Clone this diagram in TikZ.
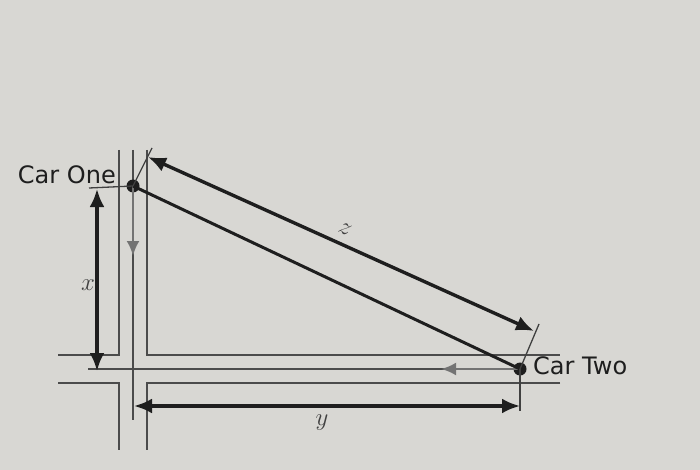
\documentclass[tikz,border=0pt]{standalone}
\usepackage{fontspec}
\setsansfont{DejaVu Sans}
\usetikzlibrary{arrows.meta}
\definecolor{paper}{RGB}{216,215,211}
\definecolor{ink}{RGB}{30,30,30}
\definecolor{road}{RGB}{75,75,75}
\definecolor{path}{RGB}{115,115,115}
\tikzset{
  roadline/.style={draw=road, line width=1.5pt},
  dimarrow/.style={draw=ink, line width=3.4pt, {Latex[length=18pt,width=15pt]}-{Latex[length=18pt,width=15pt]}},
  motion/.style={draw=path, line width=2.8pt, -{Latex[length=15pt,width=13pt]}},
  tickline/.style={draw=ink!85, line width=1.3pt},
  cardot/.style={circle, fill=ink, inner sep=0pt, minimum size=13pt},
  carlabel/.style={font=\sffamily\fontsize{24}{28}\selectfont, text=ink, inner sep=0pt},
  mathlabel/.style={font=\fontsize{26}{30}\selectfont, text=ink!85, inner sep=0pt}
}
\begin{document}
\begin{tikzpicture}[x=1pt,y=-1pt]
\fill[paper] (0,0) rectangle (700,470);
\useasboundingbox (0,0) rectangle (700,470);
% roads
\draw[roadline] (119,150) -- (119,355) -- (58,355);
\draw[roadline] (147,150) -- (147,355) -- (560,355);
\draw[roadline] (58,383) -- (119,383) -- (119,450);
\draw[roadline] (560,383) -- (147,383) -- (147,450);
\draw[roadline] (133,150) -- (133,420);
\draw[roadline] (88,369) -- (520,369);
% cars
\node[cardot] (c1) at (133,186) {};
\node[cardot] (c2) at (520,369) {};
\node[carlabel, anchor=east] (l1) at (116,175) {Car One};
\node[carlabel, anchor=west] (l2) at (533,366) {Car Two};
% motion arrows
\coordinate (m1) at (133,256);
\coordinate (m2) at (441,369);
\draw[motion] (c1.center) -- (m1);
\draw[motion] (c2.center) -- (m2);
% hypotenuse
\draw[ink, line width=3pt] (c1.center) -- (c2.center);
% extension / tick lines
\coordinate (t1) at (152,148);
\coordinate (t2) at (539,324);
\coordinate (h1) at (89,188);
\coordinate (v2) at (520,411);
\draw[tickline] (c1.center) -- (t1);
\draw[tickline] (c2.center) -- (t2);
\draw[tickline] (h1) -- (c1.center);
\draw[tickline] (c2.center) -- (v2);
% dimension arrows
\coordinate (xa) at (97,189);
\coordinate (xb) at (97,371);
\coordinate (ya) at (134,406);
\coordinate (yb) at (520,406);
\coordinate (za) at (148,157);
\coordinate (zb) at (534,331);
\draw[dimarrow] (xa) -- (xb);
\draw[dimarrow] (ya) -- (yb);
\draw[dimarrow] (za) -- (zb);
% labels
\node[mathlabel] (xl) at (88,285) {$x$};
\node[mathlabel] (yl) at (322,423) {$y$};
\node[mathlabel, rotate=-24] (zl) at (345,229) {$z$};
\end{tikzpicture}
\end{document}
